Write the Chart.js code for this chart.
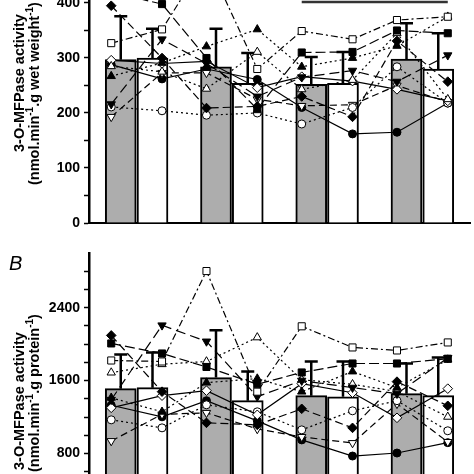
<!DOCTYPE html>
<html>
<head>
<meta charset="utf-8">
<script src="https://cdn.jsdelivr.net/npm/chart.js@4.4.0/dist/chart.umd.min.js"></script>
<style>
  html, body { margin: 0; padding: 0; background: #fff; width: 474px; height: 474px; overflow: hidden; }
  #top { position: absolute; left: 0; top: -37px; }
  #bottom { position: absolute; left: 0; top: 240px; }
</style>
</head>
<body>
<div id="top"><canvas id="chartA" width="474" height="270"></canvas></div>
<div id="bottom"><canvas id="chartB" width="474" height="290"></canvas></div>
<script>
// four pairs of bars (grey, white)
const conditions = ['1 grey', '1 white', '2 grey', '2 white', '3 grey', '3 white', '4 grey', '4 white'];

// panel A - per g wet weight
const wetMean = [297, 300, 284, 254, 252, 254, 298, 280];
const wetSD = [79, 53, 69, 55, 50, 57, 65, 65];
const wetTicks = [0, 50, 100, 150, 200, 250, 300, 350, 400];
const wetTickLabels = [0, 100, 200, 300, 400];

// panel B - per g protein
const protMean = [1512, 1523, 1633, 1380, 1435, 1423, 1457, 1435];
const protSD = [375, 386, 519, 320, 375, 387, 331, 419];
const protTicks = [0, 200, 400, 600, 800, 1000, 1200, 1400, 1600, 1800, 2000, 2200, 2400, 2600, 2800];
const protTickLabels = [0, 800, 1600, 2400];

// individual subjects, panel A
const wetS1 = [327, 352, 480, 280, 349, 334, 369, 375];
const wetS2 = [420, 398, 300, 207, 310, 311, 350, 345];
const wetS3 = [395, 300, 209, 212, 230, 193, 331, 257];
const wetS4 = [216, 334, 290, 230, 265, 277, 257, 305];
const wetS5 = [267, 291, 321, 352, 284, 300, 322, 375];
const wetS6 = [285, 275, 244, 311, 243, 260, 345, 225];
const wetS7 = [296, 290, 294, 246, 266, 258, 243, 222];
const wetS8 = [211, 204, 196, 200, 180, 210, 284, 218];
const wetS9 = [193, 273, 273, 225, 213, 215, 250, 220];
const wetS10 = [288, 262, 280, 261, 210, 162, 165, 218];

// individual subjects, panel B
const protS1 = [1821, 1810, 2802, 1479, 2196, 1964, 1931, 2019];
const protS2 = [2008, 1898, 1750, 1560, 1690, 1788, 1788, 1840];
const protS3 = [2096, 1479, 1137, 1115, 1291, 1082, 1589, 1324];
const protS4 = [1390, 2207, 2030, 1424, 1600, 1523, 1457, 1850];
const protS5 = [1412, 1258, 1578, 1622, 1479, 1700, 1523, 1830];
const protS6 = [1688, 1780, 1810, 2074, 1610, 1560, 1480, 1203];
const protS7 = [1302, 1435, 1490, 1225, 1567, 1467, 1192, 1512];
const protS8 = [1170, 1082, 1335, 1258, 1060, 1269, 1380, 1050];
const protS9 = [938, 1230, 1247, 1070, 983, 916, 1346, 928];
const protS10 = [1330, 1203, 1380, 1159, 950, 773, 806, 920];

const wetSubjects = [wetS1, wetS2, wetS3, wetS4, wetS5, wetS6, wetS7, wetS8, wetS9, wetS10];
const protSubjects = [protS1, protS2, protS3, protS4, protS5, protS6, protS7, protS8, protS9, protS10];

// marker + line style per subject
const markers = [
  { style: 'rect', fill: false, r: 5 },
  { style: 'rect', fill: true, r: 5 },
  { style: 'rectRot', fill: true, r: 4.8 },
  { style: 'triangle', fill: true, r: 4.8, rot: 180 },
  { style: 'triangle', fill: true, r: 4.8 },
  { style: 'triangle', fill: false, r: 4.8 },
  { style: 'rectRot', fill: false, r: 4.8 },
  { style: 'circle', fill: false, r: 4 },
  { style: 'triangle', fill: false, r: 4.8, rot: 180 },
  { style: 'circle', fill: true, r: 4 }
];
const dashes = [[7, 3, 2, 3], [10, 4], [8, 4], [10, 5], [2, 3], [2, 3], [], [2, 3], [7, 4], []];

const FONT = '"Liberation Sans", Arial, sans-serif';

// bar centres; pairs sit together with a one-bar gap between pairs
const barX = conditions.map((c, i) => Math.floor(i / 2) * 3 + (i % 2));
const dotX = barX.map((x, i) => x + (i % 2 ? 0.3 : -0.3));

function drawRich(ctx, x, y, parts) {
  // text rotated -90deg, starting at (x, y) going up
  ctx.save();
  ctx.translate(x, y);
  ctx.rotate(-Math.PI / 2);
  ctx.fillStyle = '#000';
  ctx.textAlign = 'left';
  ctx.textBaseline = 'alphabetic';
  let pos = 0;
  parts.forEach(p => {
    ctx.font = p.sup ? 'bold 10px ' + FONT : 'bold 14.5px ' + FONT;
    ctx.fillText(p.t, pos, p.sup ? -6 : 0);
    pos += ctx.measureText(p.t).width;
  });
  ctx.restore();
}

function makeChart(id, cfg) {
  const datasets = [];
  datasets.push({
    type: 'bar',
    data: cfg.mean.map((m, i) => ({ x: barX[i], y: m })),
    backgroundColor: cfg.mean.map((m, i) => i % 2 ? '#ffffff' : '#adadad'),
    borderColor: '#000',
    borderWidth: 2,
    borderSkipped: 'bottom',
    barThickness: 31,
    order: 10
  });
  cfg.subjects.forEach((vals, s) => {
    const mk = markers[s];
    datasets.push({
      type: 'line',
      label: 'S' + (s + 1),
      data: vals.map((v, i) => ({ x: dotX[i], y: v })),
      borderColor: '#000',
      borderWidth: 1.2,
      borderDash: dashes[s],
      tension: 0,
      pointStyle: mk.style,
      pointRotation: mk.rot || 0,
      pointRadius: mk.r,
      pointBackgroundColor: mk.fill ? '#000' : '#fff',
      pointBorderColor: '#000',
      pointBorderWidth: 1,
      order: 1
    });
  });

  const extras = {
    id: 'extras',
    afterDatasetDraw(chart, args) {
      if (chart.data.datasets[args.index].type !== 'bar') return;
      const { ctx, scales: { x, y } } = chart;
      ctx.save();
      ctx.strokeStyle = '#000';
      ctx.lineWidth = 2.5;
      cfg.mean.forEach((m, i) => {
        const px = x.getPixelForValue(barX[i]);
        const y0 = y.getPixelForValue(m);
        const y1 = y.getPixelForValue(m + cfg.sd[i]);
        ctx.beginPath();
        ctx.moveTo(px, y0);
        ctx.lineTo(px, y1);
        ctx.moveTo(px - 6.5, y1);
        ctx.lineTo(px + 6.5, y1);
        ctx.stroke();
      });
      ctx.restore();
    },
    afterDraw(chart) {
      const { ctx, scales: { x, y } } = chart;
      cfg.titles.forEach(t => drawRich(ctx, t.x, t.y, t.parts));
      if (cfg.letter) {
        ctx.save();
        ctx.font = 'italic 20px ' + FONT;
        ctx.fillStyle = '#000';
        ctx.fillText(cfg.letter, 9, 30);
        ctx.restore();
      }
      if (cfg.sigLine) {
        ctx.save();
        ctx.strokeStyle = '#333';
        ctx.lineWidth = 2.5;
        const yy = y.getPixelForValue(cfg.sigLine.y);
        ctx.beginPath();
        ctx.moveTo(x.getPixelForValue(dotX[cfg.sigLine.from]), yy);
        ctx.lineTo(x.getPixelForValue(dotX[cfg.sigLine.to]), yy);
        ctx.stroke();
        ctx.restore();
      }
    }
  };

  return new Chart(document.getElementById(id), {
    data: { datasets },
    options: {
      responsive: false,
      animation: false,
      layout: { autoPadding: false, padding: cfg.padding },
      plugins: { legend: { display: false }, tooltip: { enabled: false } },
      scales: {
        x: {
          type: 'linear',
          offset: false,
          min: -1,
          max: 11,
          ticks: { display: false },
          grid: { display: false, drawTicks: false },
          border: { display: true, color: '#000', width: 2 }
        },
        y: {
          min: 0,
          max: cfg.yMax,
          afterBuildTicks: s => { s.ticks = cfg.ticks.map(v => ({ value: v })); },
          afterFit: s => { s.width = 89; s.paddingTop = 0; s.paddingBottom = 0; },
          ticks: {
            autoSkip: false,
            color: '#000',
            padding: 4,
            font: { family: FONT, size: 14, weight: 'bold' },
            callback: v => cfg.labels.includes(v) ? String(v) : ''
          },
          grid: { drawOnChartArea: false, drawTicks: true, tickLength: 5, tickColor: '#000', tickWidth: 1.5 },
          border: { display: true, color: '#000', width: 2.5 }
        }
      }
    },
    plugins: [extras]
  });
}

makeChart('chartA', {
  mean: wetMean, sd: wetSD, subjects: wetSubjects,
  ticks: wetTicks, labels: wetTickLabels, yMax: 472.7,
  padding: { top: 0, bottom: 10, left: 0, right: 4 },
  sigLine: { y: 402, from: 4, to: 7 },
  titles: [
    { x: 24, y: 189, parts: [{ t: '3-O-MFPase activity' }] },
    { x: 38.5, y: 222, parts: [{ t: '(nmol.min' }, { t: '-1', sup: true }, { t: '.g wet weight' }, { t: '-1', sup: true }, { t: ')' }] }
  ]
});

makeChart('chartB', {
  mean: protMean, sd: protSD, subjects: protSubjects,
  ticks: protTicks, labels: protTickLabels, yMax: 3000,
  padding: { top: 13, bottom: 3.5, left: 0, right: 4 },
  letter: 'B',
  titles: [
    { x: 24, y: 230, parts: [{ t: '3-O-MFPase activity' }] },
    { x: 38.5, y: 232, parts: [{ t: '(nmol.min' }, { t: '-1', sup: true }, { t: '.g protein' }, { t: '-1', sup: true }, { t: ')' }] }
  ]
});
</script>
</body>
</html>
